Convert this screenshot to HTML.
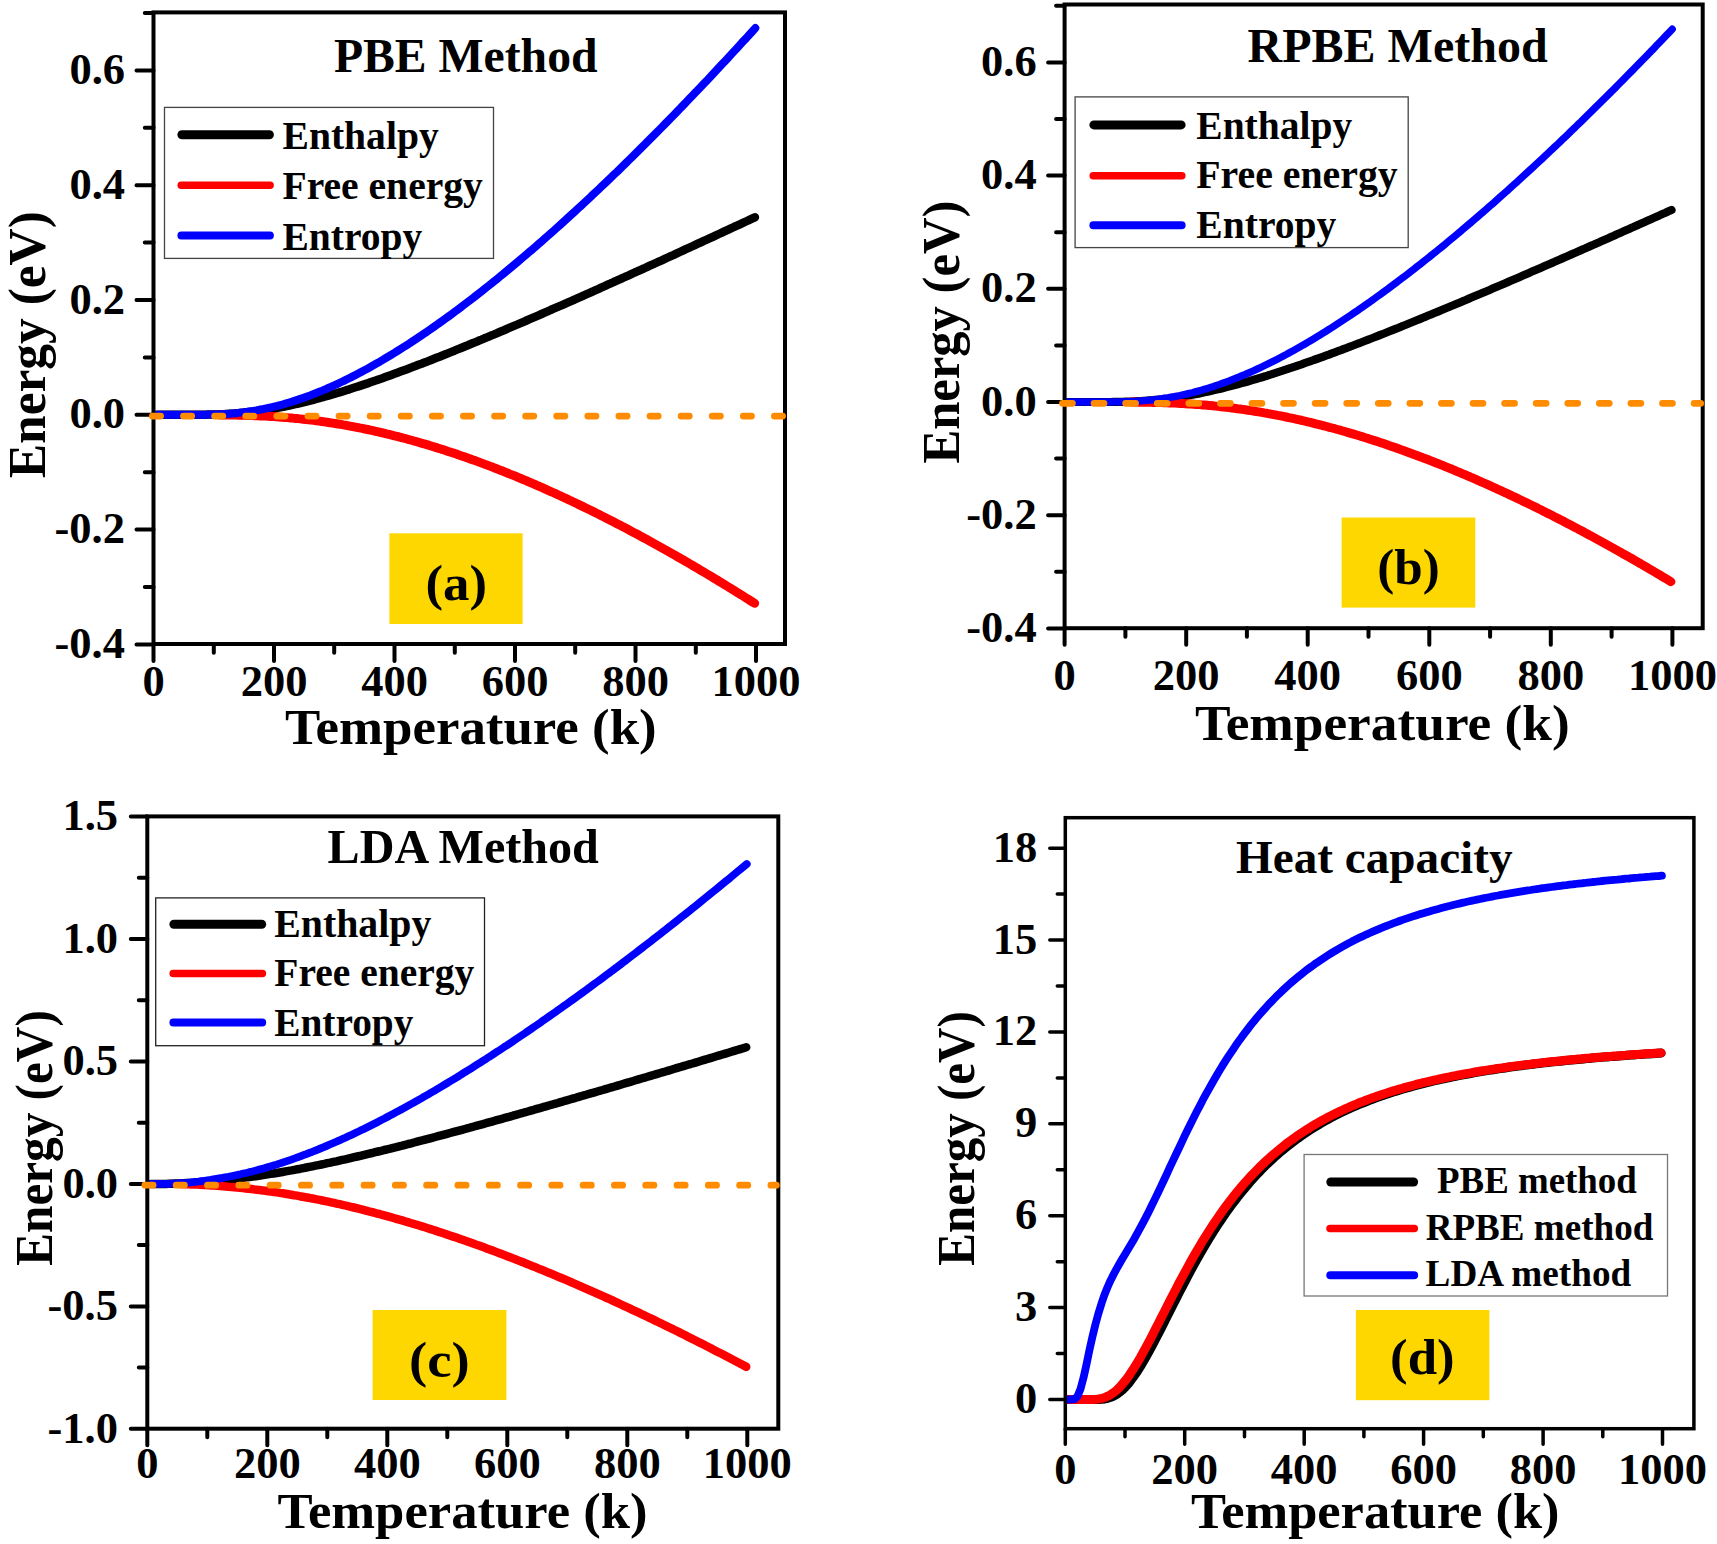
<!DOCTYPE html>
<html><head><meta charset="utf-8"><title>Thermodynamic properties</title>
<style>html,body{margin:0;padding:0;background:#fff}svg{display:block}text{font-family:"Liberation Serif",serif;font-weight:bold;fill:#000}</style></head>
<body>
<svg width="1717" height="1544" viewBox="0 0 1717 1544">
<rect width="1717" height="1544" fill="#fff"/>
<g>
<path d="M157.1,414.8 L160.1,414.8 L163.1,414.8 L166.1,414.8 L169.1,414.8 L172.1,414.8 L175.1,414.8 L178.1,414.8 L181.1,414.8 L184.1,414.8 L187.1,414.8 L190.1,414.8 L193.1,414.8 L196.1,414.8 L199.1,414.8 L202.1,414.7 L205.2,414.7 L208.2,414.6 L211.2,414.6 L214.2,414.5 L217.2,414.4 L220.2,414.3 L223.2,414.2 L226.2,414.0 L229.2,413.8 L232.2,413.7 L235.2,413.4 L238.2,413.2 L241.2,412.9 L244.2,412.6 L247.2,412.3 L250.2,412.0 L253.2,411.6 L256.2,411.3 L259.2,410.8 L262.2,410.4 L265.2,410.0 L268.2,409.5 L271.2,409.0 L274.2,408.5 L277.3,407.9 L280.3,407.3 L283.3,406.8 L286.3,406.1 L289.3,405.5 L292.3,404.9 L295.3,404.2 L298.3,403.5 L301.3,402.8 L304.3,402.1 L307.3,401.3 L310.3,400.6 L313.3,399.8 L316.3,399.0 L319.3,398.2 L322.3,397.3 L325.3,396.5 L328.3,395.6 L331.3,394.8 L334.3,393.9 L337.3,393.0 L340.3,392.1 L343.3,391.2 L346.3,390.2 L349.4,389.3 L352.4,388.3 L355.4,387.3 L358.4,386.4 L361.4,385.4 L364.4,384.4 L367.4,383.4 L370.4,382.3 L373.4,381.3 L376.4,380.3 L379.4,379.2 L382.4,378.2 L385.4,377.1 L388.4,376.0 L391.4,374.9 L394.4,373.8 L397.4,372.7 L400.4,371.6 L403.4,370.5 L406.4,369.4 L409.4,368.3 L412.4,367.1 L415.4,366.0 L418.4,364.8 L421.5,363.7 L424.5,362.5 L427.5,361.4 L430.5,360.2 L433.5,359.0 L436.5,357.8 L439.5,356.7 L442.5,355.5 L445.5,354.3 L448.5,353.1 L451.5,351.9 L454.5,350.7 L457.5,349.4 L460.5,348.2 L463.5,347.0 L466.5,345.8 L469.5,344.5 L472.5,343.3 L475.5,342.1 L478.5,340.8 L481.5,339.6 L484.5,338.3 L487.5,337.1 L490.5,335.8 L493.6,334.6 L496.6,333.3 L499.6,332.0 L502.6,330.8 L505.6,329.5 L508.6,328.2 L511.6,326.9 L514.6,325.6 L517.6,324.4 L520.6,323.1 L523.6,321.8 L526.6,320.5 L529.6,319.2 L532.6,317.9 L535.6,316.6 L538.6,315.3 L541.6,314.0 L544.6,312.7 L547.6,311.4 L550.6,310.0 L553.6,308.7 L556.6,307.4 L559.6,306.1 L562.6,304.8 L565.7,303.5 L568.7,302.1 L571.7,300.8 L574.7,299.5 L577.7,298.1 L580.7,296.8 L583.7,295.5 L586.7,294.1 L589.7,292.8 L592.7,291.5 L595.7,290.1 L598.7,288.8 L601.7,287.4 L604.7,286.1 L607.7,284.7 L610.7,283.4 L613.7,282.0 L616.7,280.7 L619.7,279.3 L622.7,278.0 L625.7,276.6 L628.7,275.3 L631.7,273.9 L634.7,272.5 L637.8,271.2 L640.8,269.8 L643.8,268.5 L646.8,267.1 L649.8,265.7 L652.8,264.4 L655.8,263.0 L658.8,261.6 L661.8,260.3 L664.8,258.9 L667.8,257.5 L670.8,256.1 L673.8,254.8 L676.8,253.4 L679.8,252.0 L682.8,250.6 L685.8,249.2 L688.8,247.9 L691.8,246.5 L694.8,245.1 L697.8,243.7 L700.8,242.3 L703.8,240.9 L706.8,239.6 L709.9,238.2 L712.9,236.8 L715.9,235.4 L718.9,234.0 L721.9,232.6 L724.9,231.2 L727.9,229.8 L730.9,228.4 L733.9,227.0 L736.9,225.7 L739.9,224.3 L742.9,222.9 L745.9,221.5 L748.9,220.1 L751.9,218.7 L754.9,217.3" fill="none" stroke="#000" stroke-width="8.5" stroke-linecap="round" stroke-linejoin="round"/>
<path d="M219.8,414.9 L222.5,414.9 L225.1,414.9 L227.8,415.0 L230.5,415.0 L233.2,415.1 L235.9,415.1 L238.6,415.2 L241.3,415.2 L244.0,415.3 L246.6,415.4 L249.3,415.5 L252.0,415.5 L254.7,415.7 L257.4,415.8 L260.1,415.9 L262.8,416.0 L265.5,416.1 L268.1,416.3 L270.8,416.5 L273.5,416.6 L276.2,416.8 L278.9,417.0 L281.6,417.2 L284.3,417.4 L287.0,417.6 L289.6,417.9 L292.3,418.1 L295.0,418.4 L297.7,418.6 L300.4,418.9 L303.1,419.2 L305.8,419.5 L308.5,419.8 L311.1,420.1 L313.8,420.4 L316.5,420.8 L319.2,421.1 L321.9,421.5 L324.6,421.9 L327.3,422.3 L330.0,422.7 L332.6,423.1 L335.3,423.5 L338.0,424.0 L340.7,424.4 L343.4,424.9 L346.1,425.3 L348.8,425.8 L351.5,426.3 L354.1,426.8 L356.8,427.3 L359.5,427.9 L362.2,428.4 L364.9,429.0 L367.6,429.5 L370.3,430.1 L373.0,430.7 L375.6,431.3 L378.3,431.9 L381.0,432.5 L383.7,433.1 L386.4,433.8 L389.1,434.4 L391.8,435.1 L394.5,435.8 L397.1,436.4 L399.8,437.1 L402.5,437.8 L405.2,438.5 L407.9,439.3 L410.6,440.0 L413.3,440.8 L416.0,441.5 L418.6,442.3 L421.3,443.1 L424.0,443.8 L426.7,444.6 L429.4,445.4 L432.1,446.3 L434.8,447.1 L437.4,447.9 L440.1,448.8 L442.8,449.6 L445.5,450.5 L448.2,451.4 L450.9,452.3 L453.6,453.1 L456.3,454.0 L458.9,455.0 L461.6,455.9 L464.3,456.8 L467.0,457.8 L469.7,458.7 L472.4,459.7 L475.1,460.6 L477.8,461.6 L480.4,462.6 L483.1,463.6 L485.8,464.6 L488.5,465.6 L491.2,466.6 L493.9,467.7 L496.6,468.7 L499.3,469.8 L501.9,470.8 L504.6,471.9 L507.3,473.0 L510.0,474.1 L512.7,475.1 L515.4,476.2 L518.1,477.4 L520.8,478.5 L523.4,479.6 L526.1,480.7 L528.8,481.9 L531.5,483.0 L534.2,484.2 L536.9,485.4 L539.6,486.5 L542.3,487.7 L544.9,488.9 L547.6,490.1 L550.3,491.3 L553.0,492.5 L555.7,493.7 L558.4,495.0 L561.1,496.2 L563.8,497.5 L566.4,498.7 L569.1,500.0 L571.8,501.2 L574.5,502.5 L577.2,503.8 L579.9,505.1 L582.6,506.4 L585.3,507.7 L587.9,509.0 L590.6,510.3 L593.3,511.6 L596.0,513.0 L598.7,514.3 L601.4,515.7 L604.1,517.0 L606.8,518.4 L609.4,519.8 L612.1,521.1 L614.8,522.5 L617.5,523.9 L620.2,525.3 L622.9,526.7 L625.6,528.1 L628.2,529.5 L630.9,531.0 L633.6,532.4 L636.3,533.8 L639.0,535.3 L641.7,536.7 L644.4,538.2 L647.1,539.6 L649.7,541.1 L652.4,542.6 L655.1,544.1 L657.8,545.6 L660.5,547.1 L663.2,548.6 L665.9,550.1 L668.6,551.6 L671.2,553.1 L673.9,554.6 L676.6,556.2 L679.3,557.7 L682.0,559.3 L684.7,560.8 L687.4,562.4 L690.1,564.0 L692.7,565.5 L695.4,567.1 L698.1,568.7 L700.8,570.3 L703.5,571.9 L706.2,573.5 L708.9,575.1 L711.6,576.7 L714.2,578.3 L716.9,579.9 L719.6,581.6 L722.3,583.2 L725.0,584.9 L727.7,586.5 L730.4,588.2 L733.1,589.8 L735.7,591.5 L738.4,593.2 L741.1,594.8 L743.8,596.5 L746.5,598.2 L749.2,599.9 L751.9,601.6 L754.6,603.3" fill="none" stroke="#f00" stroke-width="9" stroke-linecap="round" stroke-linejoin="round"/>
<path d="M156.9,414.8 L159.9,414.8 L162.9,414.8 L165.9,414.8 L168.9,414.8 L171.9,414.8 L174.9,414.8 L177.9,414.8 L180.9,414.8 L183.9,414.8 L186.9,414.8 L190.0,414.8 L193.0,414.8 L196.0,414.8 L199.0,414.8 L202.0,414.7 L205.0,414.7 L208.0,414.6 L211.0,414.6 L214.0,414.5 L217.0,414.4 L220.0,414.2 L223.0,414.1 L226.0,413.9 L229.0,413.7 L232.1,413.4 L235.1,413.2 L238.1,412.9 L241.1,412.5 L244.1,412.2 L247.1,411.8 L250.1,411.3 L253.1,410.9 L256.1,410.4 L259.1,409.8 L262.1,409.3 L265.1,408.6 L268.1,408.0 L271.1,407.3 L274.1,406.6 L277.2,405.9 L280.2,405.1 L283.2,404.3 L286.2,403.4 L289.2,402.5 L292.2,401.6 L295.2,400.6 L298.2,399.6 L301.2,398.6 L304.2,397.6 L307.2,396.5 L310.2,395.4 L313.2,394.2 L316.2,393.0 L319.3,391.8 L322.3,390.6 L325.3,389.3 L328.3,388.0 L331.3,386.7 L334.3,385.3 L337.3,384.0 L340.3,382.5 L343.3,381.1 L346.3,379.6 L349.3,378.2 L352.3,376.6 L355.3,375.1 L358.3,373.5 L361.4,371.9 L364.4,370.3 L367.4,368.7 L370.4,367.0 L373.4,365.3 L376.4,363.6 L379.4,361.9 L382.4,360.1 L385.4,358.3 L388.4,356.5 L391.4,354.7 L394.4,352.9 L397.4,351.0 L400.4,349.1 L403.5,347.2 L406.5,345.3 L409.5,343.4 L412.5,341.4 L415.5,339.4 L418.5,337.4 L421.5,335.4 L424.5,333.3 L427.5,331.3 L430.5,329.2 L433.5,327.1 L436.5,325.0 L439.5,322.9 L442.5,320.7 L445.6,318.5 L448.6,316.4 L451.6,314.2 L454.6,311.9 L457.6,309.7 L460.6,307.5 L463.6,305.2 L466.6,302.9 L469.6,300.6 L472.6,298.3 L475.6,296.0 L478.6,293.6 L481.6,291.3 L484.6,288.9 L487.6,286.5 L490.7,284.1 L493.7,281.7 L496.7,279.3 L499.7,276.8 L502.7,274.4 L505.7,271.9 L508.7,269.4 L511.7,266.9 L514.7,264.4 L517.7,261.9 L520.7,259.3 L523.7,256.8 L526.7,254.2 L529.7,251.6 L532.8,249.1 L535.8,246.5 L538.8,243.8 L541.8,241.2 L544.8,238.6 L547.8,235.9 L550.8,233.3 L553.8,230.6 L556.8,227.9 L559.8,225.2 L562.8,222.5 L565.8,219.8 L568.8,217.0 L571.8,214.3 L574.9,211.5 L577.9,208.7 L580.9,206.0 L583.9,203.2 L586.9,200.4 L589.9,197.6 L592.9,194.7 L595.9,191.9 L598.9,189.1 L601.9,186.2 L604.9,183.3 L607.9,180.5 L610.9,177.6 L613.9,174.7 L617.0,171.8 L620.0,168.8 L623.0,165.9 L626.0,163.0 L629.0,160.0 L632.0,157.1 L635.0,154.1 L638.0,151.1 L641.0,148.1 L644.0,145.2 L647.0,142.1 L650.0,139.1 L653.0,136.1 L656.0,133.1 L659.1,130.0 L662.1,127.0 L665.1,123.9 L668.1,120.9 L671.1,117.8 L674.1,114.7 L677.1,111.6 L680.1,108.5 L683.1,105.4 L686.1,102.3 L689.1,99.1 L692.1,96.0 L695.1,92.8 L698.1,89.7 L701.2,86.5 L704.2,83.3 L707.2,80.2 L710.2,77.0 L713.2,73.8 L716.2,70.6 L719.2,67.3 L722.2,64.1 L725.2,60.9 L728.2,57.7 L731.2,54.4 L734.2,51.1 L737.2,47.9 L740.2,44.6 L743.2,41.3 L746.3,38.1 L749.3,34.8 L752.3,31.5 L755.3,28.1" fill="none" stroke="#00f" stroke-width="8" stroke-linecap="round" stroke-linejoin="round"/>
<rect x="153.5" y="12.4" width="631.5" height="631.6" fill="none" stroke="#000" stroke-width="4"/>
<path d="M153.5,644.0 v17 M274.0,644.0 v17 M394.5,644.0 v17 M515.0,644.0 v17 M635.5,644.0 v17 M756.0,644.0 v17 M213.8,644.0 v8.7 M334.2,644.0 v8.7 M454.8,644.0 v8.7 M575.2,644.0 v8.7 M695.8,644.0 v8.7 M153.5,70.4 h-17 M153.5,185.2 h-17 M153.5,300.0 h-17 M153.5,414.8 h-17 M153.5,529.6 h-17 M153.5,644.4 h-17 M153.5,13.0 h-8.7 M153.5,127.8 h-8.7 M153.5,242.6 h-8.7 M153.5,357.4 h-8.7 M153.5,472.2 h-8.7 M153.5,587.0 h-8.7" fill="none" stroke="#000" stroke-width="4" stroke-linecap="round"/>
<path d="M152.4,416.1 H783" fill="none" stroke="#FF8C00" stroke-width="6.8" stroke-dasharray="8.2 22.9" stroke-linecap="round"/>
<text x="153.5" y="696.0" font-size="44.5" text-anchor="middle">0</text>
<text x="274.0" y="696.0" font-size="44.5" text-anchor="middle">200</text>
<text x="394.5" y="696.0" font-size="44.5" text-anchor="middle">400</text>
<text x="515.0" y="696.0" font-size="44.5" text-anchor="middle">600</text>
<text x="635.5" y="696.0" font-size="44.5" text-anchor="middle">800</text>
<text x="756.0" y="696.0" font-size="44.5" text-anchor="middle">1000</text>
<text x="125.0" y="83.9" font-size="44.5" text-anchor="end">0.6</text>
<text x="125.0" y="198.7" font-size="44.5" text-anchor="end">0.4</text>
<text x="125.0" y="313.5" font-size="44.5" text-anchor="end">0.2</text>
<text x="125.0" y="428.3" font-size="44.5" text-anchor="end">0.0</text>
<text x="125.0" y="543.1" font-size="44.5" text-anchor="end">-0.2</text>
<text x="125.0" y="657.9" font-size="44.5" text-anchor="end">-0.4</text>
<text x="285.1" y="744.2" font-size="51.5" textLength="371.6" lengthAdjust="spacingAndGlyphs">Temperature (k)</text>
<text transform="translate(45.0,478.3) rotate(-90)" font-size="52.0" textLength="267.2" lengthAdjust="spacingAndGlyphs">Energy (eV)</text>
<text x="333.9" y="71.8" font-size="47.7">PBE Method</text>
<rect x="164.5" y="107.4" width="329.0" height="151.0" fill="#fff" stroke="#444" stroke-width="1.3"/>
<path d="M181.9,134.7 H269.4" stroke="#000" stroke-width="9" stroke-linecap="round"/>
<text x="282.5" y="149.1" font-size="39.6">Enthalpy</text>
<path d="M181.2,185.3 H270.1" stroke="#f00" stroke-width="7.5" stroke-linecap="round"/>
<text x="282.5" y="198.9" font-size="39.6">Free energy</text>
<path d="M181.4,235.6 H269.9" stroke="#00f" stroke-width="8" stroke-linecap="round"/>
<text x="282.5" y="249.8" font-size="39.5">Entropy</text>
<rect x="389.4" y="533.3" width="133.2" height="90.7" fill="#FFD700"/>
<text x="425.5" y="600.1" font-size="50.5" textLength="61.6" lengthAdjust="spacingAndGlyphs">(a)</text>
</g>
<g>
<path d="M1068.1,402.0 L1071.1,402.0 L1074.2,402.0 L1077.2,402.0 L1080.2,402.0 L1083.3,402.0 L1086.3,402.0 L1089.3,402.0 L1092.3,402.0 L1095.4,402.0 L1098.4,402.0 L1101.4,402.0 L1104.5,402.0 L1107.5,402.0 L1110.5,402.0 L1113.6,401.9 L1116.6,401.9 L1119.6,401.8 L1122.7,401.8 L1125.7,401.7 L1128.7,401.6 L1131.8,401.5 L1134.8,401.4 L1137.8,401.2 L1140.9,401.1 L1143.9,400.9 L1146.9,400.7 L1150.0,400.4 L1153.0,400.2 L1156.0,399.9 L1159.1,399.6 L1162.1,399.3 L1165.1,398.9 L1168.2,398.6 L1171.2,398.2 L1174.2,397.7 L1177.3,397.3 L1180.3,396.8 L1183.3,396.4 L1186.4,395.8 L1189.4,395.3 L1192.4,394.8 L1195.4,394.2 L1198.5,393.6 L1201.5,393.0 L1204.5,392.3 L1207.6,391.7 L1210.6,391.0 L1213.6,390.3 L1216.7,389.6 L1219.7,388.9 L1222.7,388.2 L1225.8,387.4 L1228.8,386.6 L1231.8,385.8 L1234.9,385.0 L1237.9,384.2 L1240.9,383.4 L1244.0,382.5 L1247.0,381.7 L1250.0,380.8 L1253.1,379.9 L1256.1,379.0 L1259.1,378.1 L1262.2,377.2 L1265.2,376.3 L1268.2,375.3 L1271.3,374.4 L1274.3,373.4 L1277.3,372.4 L1280.4,371.4 L1283.4,370.4 L1286.4,369.4 L1289.4,368.4 L1292.5,367.4 L1295.5,366.4 L1298.5,365.3 L1301.6,364.3 L1304.6,363.2 L1307.6,362.2 L1310.7,361.1 L1313.7,360.0 L1316.7,359.0 L1319.8,357.9 L1322.8,356.8 L1325.8,355.7 L1328.9,354.6 L1331.9,353.4 L1334.9,352.3 L1338.0,351.2 L1341.0,350.1 L1344.0,348.9 L1347.1,347.8 L1350.1,346.6 L1353.1,345.5 L1356.2,344.3 L1359.2,343.2 L1362.2,342.0 L1365.3,340.8 L1368.3,339.6 L1371.3,338.5 L1374.4,337.3 L1377.4,336.1 L1380.4,334.9 L1383.5,333.7 L1386.5,332.5 L1389.5,331.3 L1392.5,330.1 L1395.6,328.9 L1398.6,327.7 L1401.6,326.4 L1404.7,325.2 L1407.7,324.0 L1410.7,322.8 L1413.8,321.5 L1416.8,320.3 L1419.8,319.1 L1422.9,317.8 L1425.9,316.6 L1428.9,315.3 L1432.0,314.1 L1435.0,312.8 L1438.0,311.6 L1441.1,310.3 L1444.1,309.0 L1447.1,307.8 L1450.2,306.5 L1453.2,305.3 L1456.2,304.0 L1459.3,302.7 L1462.3,301.4 L1465.3,300.2 L1468.4,298.9 L1471.4,297.6 L1474.4,296.3 L1477.5,295.0 L1480.5,293.8 L1483.5,292.5 L1486.6,291.2 L1489.6,289.9 L1492.6,288.6 L1495.6,287.3 L1498.7,286.0 L1501.7,284.7 L1504.7,283.4 L1507.8,282.1 L1510.8,280.8 L1513.8,279.5 L1516.9,278.2 L1519.9,276.9 L1522.9,275.6 L1526.0,274.2 L1529.0,272.9 L1532.0,271.6 L1535.1,270.3 L1538.1,269.0 L1541.1,267.7 L1544.2,266.3 L1547.2,265.0 L1550.2,263.7 L1553.3,262.4 L1556.3,261.0 L1559.3,259.7 L1562.4,258.4 L1565.4,257.1 L1568.4,255.7 L1571.5,254.4 L1574.5,253.1 L1577.5,251.7 L1580.6,250.4 L1583.6,249.1 L1586.6,247.7 L1589.7,246.4 L1592.7,245.1 L1595.7,243.7 L1598.7,242.4 L1601.8,241.0 L1604.8,239.7 L1607.8,238.4 L1610.9,237.0 L1613.9,235.7 L1616.9,234.3 L1620.0,233.0 L1623.0,231.6 L1626.0,230.3 L1629.1,228.9 L1632.1,227.6 L1635.1,226.2 L1638.2,224.9 L1641.2,223.5 L1644.2,222.2 L1647.3,220.8 L1650.3,219.5 L1653.3,218.1 L1656.4,216.7 L1659.4,215.4 L1662.4,214.0 L1665.5,212.7 L1668.5,211.3 L1671.5,210.0" fill="none" stroke="#000" stroke-width="8.2" stroke-linecap="round" stroke-linejoin="round"/>
<path d="M1131.5,402.1 L1134.2,402.1 L1136.9,402.1 L1139.6,402.2 L1142.3,402.2 L1145.0,402.2 L1147.7,402.3 L1150.4,402.3 L1153.1,402.4 L1155.9,402.5 L1158.6,402.5 L1161.3,402.6 L1164.0,402.7 L1166.7,402.8 L1169.4,402.9 L1172.1,403.0 L1174.8,403.1 L1177.5,403.3 L1180.3,403.4 L1183.0,403.5 L1185.7,403.7 L1188.4,403.9 L1191.1,404.0 L1193.8,404.2 L1196.5,404.4 L1199.2,404.6 L1201.9,404.9 L1204.7,405.1 L1207.4,405.3 L1210.1,405.6 L1212.8,405.8 L1215.5,406.1 L1218.2,406.4 L1220.9,406.7 L1223.6,407.0 L1226.3,407.3 L1229.1,407.6 L1231.8,408.0 L1234.5,408.3 L1237.2,408.7 L1239.9,409.0 L1242.6,409.4 L1245.3,409.8 L1248.0,410.2 L1250.7,410.6 L1253.5,411.0 L1256.2,411.5 L1258.9,411.9 L1261.6,412.4 L1264.3,412.9 L1267.0,413.3 L1269.7,413.8 L1272.4,414.3 L1275.1,414.8 L1277.9,415.4 L1280.6,415.9 L1283.3,416.4 L1286.0,417.0 L1288.7,417.6 L1291.4,418.1 L1294.1,418.7 L1296.8,419.3 L1299.5,419.9 L1302.2,420.5 L1305.0,421.2 L1307.7,421.8 L1310.4,422.4 L1313.1,423.1 L1315.8,423.8 L1318.5,424.5 L1321.2,425.1 L1323.9,425.8 L1326.6,426.5 L1329.4,427.3 L1332.1,428.0 L1334.8,428.7 L1337.5,429.5 L1340.2,430.2 L1342.9,431.0 L1345.6,431.8 L1348.3,432.6 L1351.0,433.4 L1353.8,434.2 L1356.5,435.0 L1359.2,435.8 L1361.9,436.6 L1364.6,437.5 L1367.3,438.3 L1370.0,439.2 L1372.7,440.1 L1375.4,440.9 L1378.2,441.8 L1380.9,442.7 L1383.6,443.6 L1386.3,444.5 L1389.0,445.5 L1391.7,446.4 L1394.4,447.3 L1397.1,448.3 L1399.8,449.3 L1402.6,450.2 L1405.3,451.2 L1408.0,452.2 L1410.7,453.2 L1413.4,454.2 L1416.1,455.2 L1418.8,456.2 L1421.5,457.2 L1424.2,458.3 L1427.0,459.3 L1429.7,460.3 L1432.4,461.4 L1435.1,462.5 L1437.8,463.5 L1440.5,464.6 L1443.2,465.7 L1445.9,466.8 L1448.6,467.9 L1451.4,469.0 L1454.1,470.1 L1456.8,471.3 L1459.5,472.4 L1462.2,473.6 L1464.9,474.7 L1467.6,475.9 L1470.3,477.0 L1473.0,478.2 L1475.8,479.4 L1478.5,480.6 L1481.2,481.8 L1483.9,483.0 L1486.6,484.2 L1489.3,485.4 L1492.0,486.6 L1494.7,487.8 L1497.4,489.1 L1500.2,490.3 L1502.9,491.6 L1505.6,492.8 L1508.3,494.1 L1511.0,495.4 L1513.7,496.7 L1516.4,497.9 L1519.1,499.2 L1521.8,500.5 L1524.5,501.9 L1527.3,503.2 L1530.0,504.5 L1532.7,505.8 L1535.4,507.1 L1538.1,508.5 L1540.8,509.8 L1543.5,511.2 L1546.2,512.6 L1548.9,513.9 L1551.7,515.3 L1554.4,516.7 L1557.1,518.1 L1559.8,519.4 L1562.5,520.8 L1565.2,522.3 L1567.9,523.7 L1570.6,525.1 L1573.3,526.5 L1576.1,527.9 L1578.8,529.4 L1581.5,530.8 L1584.2,532.3 L1586.9,533.7 L1589.6,535.2 L1592.3,536.6 L1595.0,538.1 L1597.7,539.6 L1600.5,541.1 L1603.2,542.6 L1605.9,544.1 L1608.6,545.6 L1611.3,547.1 L1614.0,548.6 L1616.7,550.1 L1619.4,551.6 L1622.1,553.2 L1624.9,554.7 L1627.6,556.2 L1630.3,557.8 L1633.0,559.3 L1635.7,560.9 L1638.4,562.5 L1641.1,564.0 L1643.8,565.6 L1646.5,567.2 L1649.3,568.8 L1652.0,570.4 L1654.7,572.0 L1657.4,573.6 L1660.1,575.2 L1662.8,576.8 L1665.5,578.4 L1668.2,580.0 L1670.9,581.7" fill="none" stroke="#f00" stroke-width="9" stroke-linecap="round" stroke-linejoin="round"/>
<path d="M1067.7,402.0 L1070.7,402.0 L1073.8,402.0 L1076.8,402.0 L1079.9,402.0 L1082.9,402.0 L1085.9,402.0 L1089.0,402.0 L1092.0,402.0 L1095.0,402.0 L1098.1,402.0 L1101.1,402.0 L1104.2,402.0 L1107.2,402.0 L1110.2,402.0 L1113.3,401.9 L1116.3,401.9 L1119.3,401.8 L1122.4,401.8 L1125.4,401.7 L1128.5,401.6 L1131.5,401.5 L1134.5,401.3 L1137.6,401.1 L1140.6,400.9 L1143.6,400.7 L1146.7,400.4 L1149.7,400.2 L1152.8,399.8 L1155.8,399.5 L1158.8,399.1 L1161.9,398.7 L1164.9,398.2 L1167.9,397.8 L1171.0,397.2 L1174.0,396.7 L1177.1,396.1 L1180.1,395.5 L1183.1,394.8 L1186.2,394.1 L1189.2,393.4 L1192.2,392.7 L1195.3,391.9 L1198.3,391.1 L1201.4,390.2 L1204.4,389.3 L1207.4,388.4 L1210.5,387.4 L1213.5,386.5 L1216.5,385.4 L1219.6,384.4 L1222.6,383.3 L1225.7,382.2 L1228.7,381.1 L1231.7,379.9 L1234.8,378.7 L1237.8,377.5 L1240.8,376.2 L1243.9,375.0 L1246.9,373.7 L1250.0,372.3 L1253.0,371.0 L1256.0,369.6 L1259.1,368.2 L1262.1,366.7 L1265.1,365.3 L1268.2,363.8 L1271.2,362.3 L1274.3,360.7 L1277.3,359.2 L1280.3,357.6 L1283.4,356.0 L1286.4,354.4 L1289.4,352.7 L1292.5,351.1 L1295.5,349.4 L1298.6,347.6 L1301.6,345.9 L1304.6,344.2 L1307.7,342.4 L1310.7,340.6 L1313.7,338.8 L1316.8,336.9 L1319.8,335.1 L1322.9,333.2 L1325.9,331.3 L1328.9,329.4 L1332.0,327.5 L1335.0,325.5 L1338.0,323.5 L1341.1,321.5 L1344.1,319.5 L1347.2,317.5 L1350.2,315.5 L1353.2,313.4 L1356.3,311.4 L1359.3,309.3 L1362.3,307.2 L1365.4,305.0 L1368.4,302.9 L1371.5,300.8 L1374.5,298.6 L1377.5,296.4 L1380.6,294.2 L1383.6,292.0 L1386.7,289.8 L1389.7,287.5 L1392.7,285.3 L1395.8,283.0 L1398.8,280.7 L1401.8,278.4 L1404.9,276.1 L1407.9,273.8 L1411.0,271.4 L1414.0,269.1 L1417.0,266.7 L1420.1,264.3 L1423.1,261.9 L1426.1,259.5 L1429.2,257.1 L1432.2,254.6 L1435.3,252.2 L1438.3,249.7 L1441.3,247.3 L1444.4,244.8 L1447.4,242.3 L1450.4,239.8 L1453.5,237.2 L1456.5,234.7 L1459.6,232.2 L1462.6,229.6 L1465.6,227.0 L1468.7,224.4 L1471.7,221.9 L1474.7,219.2 L1477.8,216.6 L1480.8,214.0 L1483.9,211.4 L1486.9,208.7 L1489.9,206.1 L1493.0,203.4 L1496.0,200.7 L1499.0,198.0 L1502.1,195.3 L1505.1,192.6 L1508.2,189.9 L1511.2,187.1 L1514.2,184.4 L1517.3,181.7 L1520.3,178.9 L1523.3,176.1 L1526.4,173.3 L1529.4,170.5 L1532.5,167.7 L1535.5,164.9 L1538.5,162.1 L1541.6,159.3 L1544.6,156.4 L1547.6,153.6 L1550.7,150.7 L1553.7,147.8 L1556.8,145.0 L1559.8,142.1 L1562.8,139.2 L1565.9,136.3 L1568.9,133.4 L1571.9,130.4 L1575.0,127.5 L1578.0,124.5 L1581.1,121.6 L1584.1,118.6 L1587.1,115.7 L1590.2,112.7 L1593.2,109.7 L1596.2,106.7 L1599.3,103.7 L1602.3,100.7 L1605.4,97.7 L1608.4,94.7 L1611.4,91.6 L1614.5,88.6 L1617.5,85.5 L1620.5,82.5 L1623.6,79.4 L1626.6,76.3 L1629.7,73.2 L1632.7,70.1 L1635.7,67.0 L1638.8,63.9 L1641.8,60.8 L1644.8,57.7 L1647.9,54.6 L1650.9,51.4 L1654.0,48.3 L1657.0,45.1 L1660.0,42.0 L1663.1,38.8 L1666.1,35.6 L1669.1,32.4 L1672.2,29.2" fill="none" stroke="#00f" stroke-width="7.3" stroke-linecap="round" stroke-linejoin="round"/>
<rect x="1064.6" y="4.5" width="638.1" height="623.7" fill="none" stroke="#000" stroke-width="4"/>
<path d="M1064.6,628.2 v16.5 M1186.2,628.2 v16.5 M1307.7,628.2 v16.5 M1429.3,628.2 v16.5 M1550.8,628.2 v16.5 M1672.4,628.2 v16.5 M1125.4,628.2 v8.5 M1246.9,628.2 v8.5 M1368.5,628.2 v8.5 M1490.1,628.2 v8.5 M1611.6,628.2 v8.5 M1064.6,62.4 h-16.5 M1064.6,175.6 h-16.5 M1064.6,288.8 h-16.5 M1064.6,402.0 h-16.5 M1064.6,515.2 h-16.5 M1064.6,628.4 h-16.5 M1064.6,5.8 h-8.5 M1064.6,119.0 h-8.5 M1064.6,232.2 h-8.5 M1064.6,345.4 h-8.5 M1064.6,458.6 h-8.5 M1064.6,571.8 h-8.5" fill="none" stroke="#000" stroke-width="4" stroke-linecap="round"/>
<path d="M1062.5,403.3 H1700.7" fill="none" stroke="#FF8C00" stroke-width="6.8" stroke-dasharray="9.9 21.68" stroke-linecap="round"/>
<text x="1064.6" y="689.5" font-size="44.5" text-anchor="middle">0</text>
<text x="1186.2" y="689.5" font-size="44.5" text-anchor="middle">200</text>
<text x="1307.7" y="689.5" font-size="44.5" text-anchor="middle">400</text>
<text x="1429.3" y="689.5" font-size="44.5" text-anchor="middle">600</text>
<text x="1550.8" y="689.5" font-size="44.5" text-anchor="middle">800</text>
<text x="1672.4" y="689.5" font-size="44.5" text-anchor="middle">1000</text>
<text x="1036.7" y="76.0" font-size="44.5" text-anchor="end">0.6</text>
<text x="1036.7" y="189.2" font-size="44.5" text-anchor="end">0.4</text>
<text x="1036.7" y="302.4" font-size="44.5" text-anchor="end">0.2</text>
<text x="1036.7" y="415.6" font-size="44.5" text-anchor="end">0.0</text>
<text x="1036.7" y="528.8" font-size="44.5" text-anchor="end">-0.2</text>
<text x="1036.7" y="642.0" font-size="44.5" text-anchor="end">-0.4</text>
<text x="1195.0" y="740.4" font-size="51.5" textLength="374.8" lengthAdjust="spacingAndGlyphs">Temperature (k)</text>
<text transform="translate(959.3,463.6) rotate(-90)" font-size="52.0" textLength="262.9" lengthAdjust="spacingAndGlyphs">Energy (eV)</text>
<text x="1247.6" y="62.1" font-size="48.0">RPBE Method</text>
<rect x="1075.1" y="96.9" width="333.1" height="150.7" fill="#fff" stroke="#444" stroke-width="1.3"/>
<path d="M1093.9,124.9 H1181.1" stroke="#000" stroke-width="9" stroke-linecap="round"/>
<text x="1196.3" y="138.6" font-size="39.5">Enthalpy</text>
<path d="M1093.2,175.7 H1181.8" stroke="#f00" stroke-width="7.5" stroke-linecap="round"/>
<text x="1196.3" y="188.2" font-size="39.8">Free energy</text>
<path d="M1093.4,225.3 H1181.6" stroke="#00f" stroke-width="8" stroke-linecap="round"/>
<text x="1196.3" y="238.4" font-size="39.6">Entropy</text>
<rect x="1341.6" y="517.5" width="133.7" height="90.1" fill="#FFD700"/>
<text x="1377.2" y="584.3" font-size="50.5" textLength="62.5" lengthAdjust="spacingAndGlyphs">(b)</text>
</g>
<g>
<path d="M150.9,1183.9 L153.9,1183.9 L156.9,1183.9 L159.8,1183.9 L162.8,1183.9 L165.8,1183.9 L168.8,1183.8 L171.8,1183.7 L174.8,1183.6 L177.8,1183.5 L180.8,1183.4 L183.8,1183.2 L186.8,1183.0 L189.8,1182.9 L192.8,1182.7 L195.7,1182.4 L198.7,1182.2 L201.7,1182.0 L204.7,1181.8 L207.7,1181.5 L210.7,1181.3 L213.7,1181.0 L216.7,1180.7 L219.7,1180.4 L222.7,1180.1 L225.7,1179.8 L228.7,1179.5 L231.6,1179.2 L234.6,1178.9 L237.6,1178.5 L240.6,1178.1 L243.6,1177.8 L246.6,1177.4 L249.6,1177.0 L252.6,1176.6 L255.6,1176.2 L258.6,1175.8 L261.6,1175.3 L264.6,1174.9 L267.5,1174.4 L270.5,1173.9 L273.5,1173.5 L276.5,1173.0 L279.5,1172.5 L282.5,1172.0 L285.5,1171.4 L288.5,1170.9 L291.5,1170.4 L294.5,1169.8 L297.5,1169.2 L300.5,1168.7 L303.4,1168.1 L306.4,1167.5 L309.4,1166.9 L312.4,1166.3 L315.4,1165.7 L318.4,1165.1 L321.4,1164.5 L324.4,1163.9 L327.4,1163.2 L330.4,1162.6 L333.4,1161.9 L336.4,1161.3 L339.3,1160.6 L342.3,1159.9 L345.3,1159.3 L348.3,1158.6 L351.3,1157.9 L354.3,1157.2 L357.3,1156.5 L360.3,1155.8 L363.3,1155.1 L366.3,1154.4 L369.3,1153.7 L372.3,1153.0 L375.2,1152.2 L378.2,1151.5 L381.2,1150.8 L384.2,1150.0 L387.2,1149.3 L390.2,1148.6 L393.2,1147.8 L396.2,1147.1 L399.2,1146.3 L402.2,1145.6 L405.2,1144.8 L408.2,1144.0 L411.1,1143.3 L414.1,1142.5 L417.1,1141.7 L420.1,1140.9 L423.1,1140.2 L426.1,1139.4 L429.1,1138.6 L432.1,1137.8 L435.1,1137.0 L438.1,1136.2 L441.1,1135.4 L444.1,1134.6 L447.0,1133.8 L450.0,1133.0 L453.0,1132.2 L456.0,1131.4 L459.0,1130.6 L462.0,1129.8 L465.0,1129.0 L468.0,1128.2 L471.0,1127.3 L474.0,1126.5 L477.0,1125.7 L480.0,1124.9 L482.9,1124.1 L485.9,1123.2 L488.9,1122.4 L491.9,1121.6 L494.9,1120.7 L497.9,1119.9 L500.9,1119.1 L503.9,1118.2 L506.9,1117.4 L509.9,1116.6 L512.9,1115.7 L515.9,1114.9 L518.9,1114.0 L521.8,1113.2 L524.8,1112.3 L527.8,1111.5 L530.8,1110.6 L533.8,1109.8 L536.8,1108.9 L539.8,1108.1 L542.8,1107.2 L545.8,1106.4 L548.8,1105.5 L551.8,1104.7 L554.8,1103.8 L557.7,1103.0 L560.7,1102.1 L563.7,1101.2 L566.7,1100.4 L569.7,1099.5 L572.7,1098.6 L575.7,1097.8 L578.7,1096.9 L581.7,1096.0 L584.7,1095.2 L587.7,1094.3 L590.7,1093.4 L593.6,1092.6 L596.6,1091.7 L599.6,1090.8 L602.6,1090.0 L605.6,1089.1 L608.6,1088.2 L611.6,1087.3 L614.6,1086.5 L617.6,1085.6 L620.6,1084.7 L623.6,1083.8 L626.6,1082.9 L629.5,1082.1 L632.5,1081.2 L635.5,1080.3 L638.5,1079.4 L641.5,1078.5 L644.5,1077.7 L647.5,1076.8 L650.5,1075.9 L653.5,1075.0 L656.5,1074.1 L659.5,1073.2 L662.5,1072.3 L665.4,1071.5 L668.4,1070.6 L671.4,1069.7 L674.4,1068.8 L677.4,1067.9 L680.4,1067.0 L683.4,1066.1 L686.4,1065.2 L689.4,1064.3 L692.4,1063.5 L695.4,1062.6 L698.4,1061.7 L701.3,1060.8 L704.3,1059.9 L707.3,1059.0 L710.3,1058.1 L713.3,1057.2 L716.3,1056.3 L719.3,1055.4 L722.3,1054.5 L725.3,1053.6 L728.3,1052.7 L731.3,1051.8 L734.3,1050.9 L737.2,1050.0 L740.2,1049.1 L743.2,1048.2 L746.2,1047.3" fill="none" stroke="#000" stroke-width="8.5" stroke-linecap="round" stroke-linejoin="round"/>
<path d="M180.3,1184.1 L183.1,1184.1 L186.0,1184.2 L188.8,1184.3 L191.7,1184.4 L194.5,1184.5 L197.4,1184.6 L200.2,1184.7 L203.1,1184.9 L205.9,1185.0 L208.7,1185.2 L211.6,1185.4 L214.4,1185.6 L217.3,1185.8 L220.1,1186.0 L223.0,1186.2 L225.8,1186.4 L228.6,1186.7 L231.5,1186.9 L234.3,1187.2 L237.2,1187.5 L240.0,1187.8 L242.9,1188.1 L245.7,1188.4 L248.6,1188.7 L251.4,1189.0 L254.2,1189.4 L257.1,1189.7 L259.9,1190.1 L262.8,1190.4 L265.6,1190.8 L268.5,1191.2 L271.3,1191.6 L274.1,1192.0 L277.0,1192.4 L279.8,1192.9 L282.7,1193.3 L285.5,1193.7 L288.4,1194.2 L291.2,1194.7 L294.1,1195.2 L296.9,1195.6 L299.7,1196.2 L302.6,1196.7 L305.4,1197.2 L308.3,1197.7 L311.1,1198.3 L314.0,1198.8 L316.8,1199.4 L319.6,1199.9 L322.5,1200.5 L325.3,1201.1 L328.2,1201.7 L331.0,1202.3 L333.9,1202.9 L336.7,1203.6 L339.6,1204.2 L342.4,1204.8 L345.2,1205.5 L348.1,1206.2 L350.9,1206.8 L353.8,1207.5 L356.6,1208.2 L359.5,1208.9 L362.3,1209.6 L365.1,1210.3 L368.0,1211.1 L370.8,1211.8 L373.7,1212.5 L376.5,1213.3 L379.4,1214.0 L382.2,1214.8 L385.1,1215.6 L387.9,1216.4 L390.7,1217.2 L393.6,1218.0 L396.4,1218.8 L399.3,1219.6 L402.1,1220.4 L405.0,1221.3 L407.8,1222.1 L410.6,1223.0 L413.5,1223.8 L416.3,1224.7 L419.2,1225.5 L422.0,1226.4 L424.9,1227.3 L427.7,1228.2 L430.6,1229.1 L433.4,1230.0 L436.2,1230.9 L439.1,1231.9 L441.9,1232.8 L444.8,1233.7 L447.6,1234.7 L450.5,1235.7 L453.3,1236.6 L456.2,1237.6 L459.0,1238.6 L461.8,1239.5 L464.7,1240.5 L467.5,1241.5 L470.4,1242.5 L473.2,1243.5 L476.1,1244.6 L478.9,1245.6 L481.7,1246.6 L484.6,1247.6 L487.4,1248.7 L490.3,1249.7 L493.1,1250.8 L496.0,1251.9 L498.8,1252.9 L501.7,1254.0 L504.5,1255.1 L507.3,1256.2 L510.2,1257.3 L513.0,1258.4 L515.9,1259.5 L518.7,1260.6 L521.6,1261.7 L524.4,1262.8 L527.2,1264.0 L530.1,1265.1 L532.9,1266.3 L535.8,1267.4 L538.6,1268.6 L541.5,1269.7 L544.3,1270.9 L547.2,1272.1 L550.0,1273.2 L552.8,1274.4 L555.7,1275.6 L558.5,1276.8 L561.4,1278.0 L564.2,1279.2 L567.1,1280.4 L569.9,1281.6 L572.7,1282.9 L575.6,1284.1 L578.4,1285.3 L581.3,1286.6 L584.1,1287.8 L587.0,1289.1 L589.8,1290.3 L592.7,1291.6 L595.5,1292.8 L598.3,1294.1 L601.2,1295.4 L604.0,1296.7 L606.9,1298.0 L609.7,1299.2 L612.6,1300.5 L615.4,1301.8 L618.2,1303.1 L621.1,1304.5 L623.9,1305.8 L626.8,1307.1 L629.6,1308.4 L632.5,1309.8 L635.3,1311.1 L638.2,1312.4 L641.0,1313.8 L643.8,1315.1 L646.7,1316.5 L649.5,1317.8 L652.4,1319.2 L655.2,1320.6 L658.1,1322.0 L660.9,1323.3 L663.7,1324.7 L666.6,1326.1 L669.4,1327.5 L672.3,1328.9 L675.1,1330.3 L678.0,1331.7 L680.8,1333.1 L683.7,1334.5 L686.5,1335.9 L689.3,1337.4 L692.2,1338.8 L695.0,1340.2 L697.9,1341.7 L700.7,1343.1 L703.6,1344.6 L706.4,1346.0 L709.3,1347.5 L712.1,1348.9 L714.9,1350.4 L717.8,1351.9 L720.6,1353.3 L723.5,1354.8 L726.3,1356.3 L729.2,1357.8 L732.0,1359.3 L734.8,1360.7 L737.7,1362.2 L740.5,1363.7 L743.4,1365.2 L746.2,1366.8" fill="none" stroke="#f00" stroke-width="8.5" stroke-linecap="round" stroke-linejoin="round"/>
<path d="M150.5,1183.9 L153.5,1183.9 L156.5,1183.9 L159.5,1183.9 L162.5,1183.9 L165.5,1183.9 L168.5,1183.8 L171.5,1183.7 L174.5,1183.6 L177.5,1183.4 L180.5,1183.2 L183.5,1183.0 L186.5,1182.8 L189.5,1182.5 L192.5,1182.2 L195.5,1181.8 L198.5,1181.5 L201.5,1181.1 L204.5,1180.7 L207.5,1180.3 L210.5,1179.9 L213.5,1179.4 L216.5,1178.9 L219.4,1178.4 L222.4,1177.9 L225.4,1177.3 L228.4,1176.8 L231.4,1176.2 L234.4,1175.6 L237.4,1174.9 L240.4,1174.3 L243.4,1173.6 L246.4,1172.9 L249.4,1172.1 L252.4,1171.4 L255.4,1170.6 L258.4,1169.8 L261.4,1169.0 L264.4,1168.2 L267.4,1167.3 L270.4,1166.4 L273.4,1165.5 L276.4,1164.6 L279.4,1163.6 L282.4,1162.6 L285.4,1161.6 L288.4,1160.6 L291.4,1159.6 L294.4,1158.5 L297.4,1157.4 L300.3,1156.3 L303.3,1155.2 L306.3,1154.1 L309.3,1152.9 L312.3,1151.8 L315.3,1150.6 L318.3,1149.4 L321.3,1148.1 L324.3,1146.9 L327.3,1145.6 L330.3,1144.3 L333.3,1143.0 L336.3,1141.7 L339.3,1140.4 L342.3,1139.0 L345.3,1137.7 L348.3,1136.3 L351.3,1134.9 L354.3,1133.5 L357.3,1132.1 L360.3,1130.6 L363.3,1129.2 L366.3,1127.7 L369.3,1126.2 L372.3,1124.7 L375.3,1123.2 L378.3,1121.7 L381.2,1120.1 L384.2,1118.6 L387.2,1117.0 L390.2,1115.4 L393.2,1113.8 L396.2,1112.2 L399.2,1110.6 L402.2,1109.0 L405.2,1107.3 L408.2,1105.7 L411.2,1104.0 L414.2,1102.3 L417.2,1100.7 L420.2,1099.0 L423.2,1097.2 L426.2,1095.5 L429.2,1093.8 L432.2,1092.0 L435.2,1090.3 L438.2,1088.5 L441.2,1086.7 L444.2,1084.9 L447.2,1083.1 L450.2,1081.3 L453.2,1079.5 L456.2,1077.7 L459.2,1075.9 L462.1,1074.0 L465.1,1072.1 L468.1,1070.3 L471.1,1068.4 L474.1,1066.5 L477.1,1064.6 L480.1,1062.7 L483.1,1060.8 L486.1,1058.9 L489.1,1056.9 L492.1,1055.0 L495.1,1053.0 L498.1,1051.1 L501.1,1049.1 L504.1,1047.1 L507.1,1045.2 L510.1,1043.2 L513.1,1041.2 L516.1,1039.1 L519.1,1037.1 L522.1,1035.1 L525.1,1033.1 L528.1,1031.0 L531.1,1029.0 L534.1,1026.9 L537.1,1024.9 L540.1,1022.8 L543.0,1020.7 L546.0,1018.6 L549.0,1016.5 L552.0,1014.4 L555.0,1012.3 L558.0,1010.2 L561.0,1008.1 L564.0,1005.9 L567.0,1003.8 L570.0,1001.6 L573.0,999.5 L576.0,997.3 L579.0,995.1 L582.0,993.0 L585.0,990.8 L588.0,988.6 L591.0,986.4 L594.0,984.2 L597.0,982.0 L600.0,979.8 L603.0,977.6 L606.0,975.3 L609.0,973.1 L612.0,970.9 L615.0,968.6 L618.0,966.4 L621.0,964.1 L623.9,961.8 L626.9,959.6 L629.9,957.3 L632.9,955.0 L635.9,952.7 L638.9,950.4 L641.9,948.1 L644.9,945.8 L647.9,943.5 L650.9,941.2 L653.9,938.8 L656.9,936.5 L659.9,934.2 L662.9,931.8 L665.9,929.5 L668.9,927.1 L671.9,924.7 L674.9,922.4 L677.9,920.0 L680.9,917.6 L683.9,915.2 L686.9,912.9 L689.9,910.5 L692.9,908.1 L695.9,905.7 L698.9,903.2 L701.9,900.8 L704.8,898.4 L707.8,896.0 L710.8,893.6 L713.8,891.1 L716.8,888.7 L719.8,886.2 L722.8,883.8 L725.8,881.3 L728.8,878.9 L731.8,876.4 L734.8,873.9 L737.8,871.4 L740.8,869.0 L743.8,866.5 L746.8,864.0" fill="none" stroke="#00f" stroke-width="7.7" stroke-linecap="round" stroke-linejoin="round"/>
<rect x="147.3" y="816.4" width="631.0" height="612.3" fill="none" stroke="#000" stroke-width="4"/>
<path d="M147.3,1428.7 v16.5 M267.3,1428.7 v16.5 M387.3,1428.7 v16.5 M507.3,1428.7 v16.5 M627.3,1428.7 v16.5 M747.3,1428.7 v16.5 M207.3,1428.7 v8.5 M327.3,1428.7 v8.5 M447.3,1428.7 v8.5 M567.3,1428.7 v8.5 M687.3,1428.7 v8.5 M147.3,816.6 h-16.5 M147.3,939.0 h-16.5 M147.3,1061.5 h-16.5 M147.3,1183.9 h-16.5 M147.3,1306.4 h-16.5 M147.3,1428.8 h-16.5 M147.3,877.8 h-8.5 M147.3,1000.2 h-8.5 M147.3,1122.7 h-8.5 M147.3,1245.1 h-8.5 M147.3,1367.6 h-8.5" fill="none" stroke="#000" stroke-width="4" stroke-linecap="round"/>
<path d="M144.9,1185.2 H776.3" fill="none" stroke="#FF8C00" stroke-width="6.8" stroke-dasharray="8.2 23.1" stroke-linecap="round"/>
<text x="147.3" y="1478.0" font-size="44.5" text-anchor="middle">0</text>
<text x="267.3" y="1478.0" font-size="44.5" text-anchor="middle">200</text>
<text x="387.3" y="1478.0" font-size="44.5" text-anchor="middle">400</text>
<text x="507.3" y="1478.0" font-size="44.5" text-anchor="middle">600</text>
<text x="627.3" y="1478.0" font-size="44.5" text-anchor="middle">800</text>
<text x="747.3" y="1478.0" font-size="44.5" text-anchor="middle">1000</text>
<text x="118.0" y="830.3" font-size="44.5" text-anchor="end">1.5</text>
<text x="118.0" y="952.7" font-size="44.5" text-anchor="end">1.0</text>
<text x="118.0" y="1075.2" font-size="44.5" text-anchor="end">0.5</text>
<text x="118.0" y="1197.6" font-size="44.5" text-anchor="end">0.0</text>
<text x="118.0" y="1320.1" font-size="44.5" text-anchor="end">-0.5</text>
<text x="118.0" y="1442.5" font-size="44.5" text-anchor="end">-1.0</text>
<text x="277.6" y="1528.4" font-size="51.5" textLength="370.0" lengthAdjust="spacingAndGlyphs">Temperature (k)</text>
<text transform="translate(51.5,1265.8) rotate(-90)" font-size="52.0" textLength="255.6" lengthAdjust="spacingAndGlyphs">Energy (eV)</text>
<text x="327.6" y="862.8" font-size="48.1">LDA Method</text>
<rect x="155.7" y="897.9" width="328.8" height="147.8" fill="#fff" stroke="#222" stroke-width="1.3"/>
<path d="M173.9,924.2 H261.7" stroke="#000" stroke-width="9" stroke-linecap="round"/>
<text x="274.3" y="937.0" font-size="39.8">Enthalpy</text>
<path d="M173.2,973.5 H262.4" stroke="#f00" stroke-width="7.5" stroke-linecap="round"/>
<text x="274.3" y="986.4" font-size="39.5">Free energy</text>
<path d="M173.4,1022.6 H262.2" stroke="#00f" stroke-width="8" stroke-linecap="round"/>
<text x="274.3" y="1035.5" font-size="39.3">Entropy</text>
<rect x="372.6" y="1310" width="133.8" height="90.0" fill="#FFD700"/>
<text x="409.0" y="1376.5" font-size="50.5" textLength="60.8" lengthAdjust="spacingAndGlyphs">(c)</text>
</g>
<g>
<path d="M1069.1,1399.5 L1072.0,1399.5 L1075.0,1399.5 L1078.0,1399.5 L1081.0,1399.5 L1083.9,1399.5 L1086.9,1399.5 L1089.9,1399.5 L1092.9,1399.5 L1095.8,1399.5 L1098.8,1399.4 L1101.8,1399.2 L1104.8,1398.9 L1107.7,1398.3 L1110.7,1397.3 L1113.7,1396.1 L1116.7,1394.4 L1119.6,1392.2 L1122.6,1389.7 L1125.6,1386.7 L1128.6,1383.4 L1131.5,1379.6 L1134.5,1375.5 L1137.5,1371.1 L1140.5,1366.4 L1143.4,1361.4 L1146.4,1356.2 L1149.4,1350.8 L1152.4,1345.3 L1155.3,1339.7 L1158.3,1333.9 L1161.3,1328.1 L1164.3,1322.2 L1167.2,1316.3 L1170.2,1310.4 L1173.2,1304.5 L1176.2,1298.6 L1179.1,1292.8 L1182.1,1287.1 L1185.1,1281.4 L1188.1,1275.7 L1191.0,1270.2 L1194.0,1264.7 L1197.0,1259.4 L1200.0,1254.1 L1202.9,1249.0 L1205.9,1243.9 L1208.9,1239.0 L1211.9,1234.2 L1214.8,1229.5 L1217.8,1224.9 L1220.8,1220.4 L1223.8,1216.0 L1226.7,1211.8 L1229.7,1207.6 L1232.7,1203.6 L1235.7,1199.7 L1238.6,1195.8 L1241.6,1192.1 L1244.6,1188.5 L1247.6,1185.0 L1250.5,1181.6 L1253.5,1178.2 L1256.5,1175.0 L1259.5,1171.9 L1262.4,1168.8 L1265.4,1165.8 L1268.4,1163.0 L1271.4,1160.2 L1274.3,1157.4 L1277.3,1154.8 L1280.3,1152.2 L1283.3,1149.7 L1286.2,1147.3 L1289.2,1144.9 L1292.2,1142.6 L1295.2,1140.4 L1298.1,1138.2 L1301.1,1136.1 L1304.1,1134.0 L1307.1,1132.0 L1310.0,1130.1 L1313.0,1128.2 L1316.0,1126.4 L1319.0,1124.6 L1321.9,1122.8 L1324.9,1121.1 L1327.9,1119.5 L1330.9,1117.9 L1333.8,1116.3 L1336.8,1114.8 L1339.8,1113.3 L1342.8,1111.8 L1345.7,1110.4 L1348.7,1109.0 L1351.7,1107.7 L1354.7,1106.4 L1357.6,1105.1 L1360.6,1103.9 L1363.6,1102.7 L1366.6,1101.5 L1369.5,1100.3 L1372.5,1099.2 L1375.5,1098.1 L1378.5,1097.0 L1381.4,1096.0 L1384.4,1094.9 L1387.4,1094.0 L1390.4,1093.0 L1393.3,1092.0 L1396.3,1091.1 L1399.3,1090.2 L1402.3,1089.3 L1405.2,1088.4 L1408.2,1087.6 L1411.2,1086.8 L1414.2,1085.9 L1417.1,1085.2 L1420.1,1084.4 L1423.1,1083.6 L1426.0,1082.9 L1429.0,1082.2 L1432.0,1081.4 L1435.0,1080.7 L1437.9,1080.1 L1440.9,1079.4 L1443.9,1078.8 L1446.9,1078.1 L1449.8,1077.5 L1452.8,1076.9 L1455.8,1076.3 L1458.8,1075.7 L1461.7,1075.1 L1464.7,1074.6 L1467.7,1074.0 L1470.7,1073.5 L1473.6,1072.9 L1476.6,1072.4 L1479.6,1071.9 L1482.6,1071.4 L1485.5,1070.9 L1488.5,1070.4 L1491.5,1070.0 L1494.5,1069.5 L1497.4,1069.0 L1500.4,1068.6 L1503.4,1068.2 L1506.4,1067.7 L1509.3,1067.3 L1512.3,1066.9 L1515.3,1066.5 L1518.3,1066.1 L1521.2,1065.7 L1524.2,1065.3 L1527.2,1064.9 L1530.2,1064.6 L1533.1,1064.2 L1536.1,1063.8 L1539.1,1063.5 L1542.1,1063.1 L1545.0,1062.8 L1548.0,1062.5 L1551.0,1062.1 L1554.0,1061.8 L1556.9,1061.5 L1559.9,1061.2 L1562.9,1060.9 L1565.9,1060.6 L1568.8,1060.3 L1571.8,1060.0 L1574.8,1059.7 L1577.8,1059.4 L1580.7,1059.2 L1583.7,1058.9 L1586.7,1058.6 L1589.7,1058.4 L1592.6,1058.1 L1595.6,1057.8 L1598.6,1057.6 L1601.6,1057.3 L1604.5,1057.1 L1607.5,1056.9 L1610.5,1056.6 L1613.5,1056.4 L1616.4,1056.2 L1619.4,1055.9 L1622.4,1055.7 L1625.4,1055.5 L1628.3,1055.3 L1631.3,1055.1 L1634.3,1054.9 L1637.3,1054.6 L1640.2,1054.4 L1643.2,1054.2 L1646.2,1054.0 L1649.2,1053.9 L1652.1,1053.7 L1655.1,1053.5 L1658.1,1053.3 L1661.1,1053.1" fill="none" stroke="#000" stroke-width="9" stroke-linecap="round" stroke-linejoin="round"/>
<path d="M1069.1,1399.5 L1072.0,1399.5 L1075.0,1399.5 L1078.0,1399.5 L1081.0,1399.5 L1083.9,1399.5 L1086.9,1399.5 L1089.9,1399.5 L1092.9,1399.4 L1095.8,1399.2 L1098.8,1398.9 L1101.8,1398.3 L1104.8,1397.5 L1107.7,1396.2 L1110.7,1394.6 L1113.7,1392.6 L1116.7,1390.1 L1119.6,1387.2 L1122.6,1383.9 L1125.6,1380.2 L1128.6,1376.2 L1131.5,1371.8 L1134.5,1367.2 L1137.5,1362.3 L1140.5,1357.2 L1143.4,1351.8 L1146.4,1346.4 L1149.4,1340.8 L1152.4,1335.1 L1155.3,1329.3 L1158.3,1323.5 L1161.3,1317.6 L1164.3,1311.8 L1167.2,1305.9 L1170.2,1300.1 L1173.2,1294.3 L1176.2,1288.6 L1179.1,1282.9 L1182.1,1277.3 L1185.1,1271.8 L1188.1,1266.3 L1191.0,1261.0 L1194.0,1255.7 L1197.0,1250.6 L1200.0,1245.6 L1202.9,1240.6 L1205.9,1235.8 L1208.9,1231.1 L1211.9,1226.5 L1214.8,1222.0 L1217.8,1217.7 L1220.8,1213.4 L1223.8,1209.2 L1226.7,1205.2 L1229.7,1201.3 L1232.7,1197.4 L1235.7,1193.7 L1238.6,1190.1 L1241.6,1186.5 L1244.6,1183.1 L1247.6,1179.8 L1250.5,1176.5 L1253.5,1173.4 L1256.5,1170.3 L1259.5,1167.3 L1262.4,1164.4 L1265.4,1161.6 L1268.4,1158.8 L1271.4,1156.2 L1274.3,1153.6 L1277.3,1151.1 L1280.3,1148.6 L1283.3,1146.2 L1286.2,1143.9 L1289.2,1141.6 L1292.2,1139.5 L1295.2,1137.3 L1298.1,1135.2 L1301.1,1133.2 L1304.1,1131.3 L1307.1,1129.4 L1310.0,1127.5 L1313.0,1125.7 L1316.0,1123.9 L1319.0,1122.2 L1321.9,1120.5 L1324.9,1118.9 L1327.9,1117.3 L1330.9,1115.8 L1333.8,1114.3 L1336.8,1112.8 L1339.8,1111.4 L1342.8,1110.0 L1345.7,1108.6 L1348.7,1107.3 L1351.7,1106.0 L1354.7,1104.8 L1357.6,1103.5 L1360.6,1102.3 L1363.6,1101.2 L1366.6,1100.0 L1369.5,1098.9 L1372.5,1097.8 L1375.5,1096.8 L1378.5,1095.7 L1381.4,1094.7 L1384.4,1093.7 L1387.4,1092.8 L1390.4,1091.8 L1393.3,1090.9 L1396.3,1090.0 L1399.3,1089.1 L1402.3,1088.3 L1405.2,1087.4 L1408.2,1086.6 L1411.2,1085.8 L1414.2,1085.0 L1417.1,1084.2 L1420.1,1083.5 L1423.1,1082.7 L1426.0,1082.0 L1429.0,1081.3 L1432.0,1080.6 L1435.0,1080.0 L1437.9,1079.3 L1440.9,1078.6 L1443.9,1078.0 L1446.9,1077.4 L1449.8,1076.8 L1452.8,1076.2 L1455.8,1075.6 L1458.8,1075.0 L1461.7,1074.5 L1464.7,1073.9 L1467.7,1073.4 L1470.7,1072.9 L1473.6,1072.3 L1476.6,1071.8 L1479.6,1071.3 L1482.6,1070.8 L1485.5,1070.4 L1488.5,1069.9 L1491.5,1069.4 L1494.5,1069.0 L1497.4,1068.5 L1500.4,1068.1 L1503.4,1067.7 L1506.4,1067.3 L1509.3,1066.8 L1512.3,1066.4 L1515.3,1066.0 L1518.3,1065.6 L1521.2,1065.3 L1524.2,1064.9 L1527.2,1064.5 L1530.2,1064.2 L1533.1,1063.8 L1536.1,1063.5 L1539.1,1063.1 L1542.1,1062.8 L1545.0,1062.4 L1548.0,1062.1 L1551.0,1061.8 L1554.0,1061.5 L1556.9,1061.2 L1559.9,1060.9 L1562.9,1060.6 L1565.9,1060.3 L1568.8,1060.0 L1571.8,1059.7 L1574.8,1059.4 L1577.8,1059.1 L1580.7,1058.9 L1583.7,1058.6 L1586.7,1058.3 L1589.7,1058.1 L1592.6,1057.8 L1595.6,1057.6 L1598.6,1057.3 L1601.6,1057.1 L1604.5,1056.8 L1607.5,1056.6 L1610.5,1056.4 L1613.5,1056.1 L1616.4,1055.9 L1619.4,1055.7 L1622.4,1055.5 L1625.4,1055.3 L1628.3,1055.0 L1631.3,1054.8 L1634.3,1054.6 L1637.3,1054.4 L1640.2,1054.2 L1643.2,1054.0 L1646.2,1053.8 L1649.2,1053.6 L1652.1,1053.5 L1655.1,1053.3 L1658.1,1053.1 L1661.1,1052.9" fill="none" stroke="#f00" stroke-width="9" stroke-linecap="round" stroke-linejoin="round"/>
<path d="M1068.6,1399.5 L1071.5,1399.5 L1074.5,1399.1 L1077.5,1396.3 L1080.5,1389.0 L1083.5,1377.8 L1086.5,1364.3 L1089.4,1350.3 L1092.4,1336.9 L1095.4,1324.5 L1098.4,1313.5 L1101.4,1303.8 L1104.3,1295.2 L1107.3,1287.7 L1110.3,1280.9 L1113.3,1274.9 L1116.3,1269.3 L1119.3,1264.0 L1122.2,1259.0 L1125.2,1254.0 L1128.2,1249.0 L1131.2,1244.0 L1134.2,1238.9 L1137.1,1233.6 L1140.1,1228.2 L1143.1,1222.6 L1146.1,1216.9 L1149.1,1211.0 L1152.0,1205.0 L1155.0,1198.9 L1158.0,1192.7 L1161.0,1186.4 L1164.0,1180.0 L1167.0,1173.6 L1169.9,1167.2 L1172.9,1160.9 L1175.9,1154.5 L1178.9,1148.2 L1181.9,1141.9 L1184.8,1135.7 L1187.8,1129.5 L1190.8,1123.5 L1193.8,1117.5 L1196.8,1111.6 L1199.8,1105.9 L1202.7,1100.2 L1205.7,1094.7 L1208.7,1089.3 L1211.7,1084.0 L1214.7,1078.8 L1217.6,1073.7 L1220.6,1068.8 L1223.6,1063.9 L1226.6,1059.2 L1229.6,1054.6 L1232.6,1050.2 L1235.5,1045.8 L1238.5,1041.6 L1241.5,1037.4 L1244.5,1033.4 L1247.5,1029.5 L1250.4,1025.7 L1253.4,1021.9 L1256.4,1018.3 L1259.4,1014.8 L1262.4,1011.4 L1265.4,1008.1 L1268.3,1004.8 L1271.3,1001.7 L1274.3,998.6 L1277.3,995.6 L1280.3,992.7 L1283.2,989.9 L1286.2,987.1 L1289.2,984.4 L1292.2,981.8 L1295.2,979.3 L1298.2,976.8 L1301.1,974.4 L1304.1,972.0 L1307.1,969.7 L1310.1,967.5 L1313.1,965.4 L1316.0,963.2 L1319.0,961.2 L1322.0,959.2 L1325.0,957.2 L1328.0,955.3 L1331.0,953.4 L1333.9,951.6 L1336.9,949.8 L1339.9,948.1 L1342.9,946.4 L1345.9,944.8 L1348.8,943.2 L1351.8,941.6 L1354.8,940.1 L1357.8,938.6 L1360.8,937.1 L1363.8,935.7 L1366.7,934.3 L1369.7,933.0 L1372.7,931.7 L1375.7,930.4 L1378.7,929.1 L1381.6,927.9 L1384.6,926.6 L1387.6,925.5 L1390.6,924.3 L1393.6,923.2 L1396.6,922.1 L1399.5,921.0 L1402.5,919.9 L1405.5,918.9 L1408.5,917.9 L1411.5,916.9 L1414.4,915.9 L1417.4,915.0 L1420.4,914.1 L1423.4,913.2 L1426.4,912.3 L1429.4,911.4 L1432.3,910.5 L1435.3,909.7 L1438.3,908.9 L1441.3,908.1 L1444.3,907.3 L1447.2,906.5 L1450.2,905.8 L1453.2,905.0 L1456.2,904.3 L1459.2,903.6 L1462.2,902.9 L1465.1,902.2 L1468.1,901.5 L1471.1,900.9 L1474.1,900.2 L1477.1,899.6 L1480.0,899.0 L1483.0,898.4 L1486.0,897.8 L1489.0,897.2 L1492.0,896.6 L1494.9,896.0 L1497.9,895.5 L1500.9,894.9 L1503.9,894.4 L1506.9,893.9 L1509.9,893.4 L1512.8,892.9 L1515.8,892.4 L1518.8,891.9 L1521.8,891.4 L1524.8,890.9 L1527.7,890.4 L1530.7,890.0 L1533.7,889.5 L1536.7,889.1 L1539.7,888.7 L1542.7,888.2 L1545.6,887.8 L1548.6,887.4 L1551.6,887.0 L1554.6,886.6 L1557.6,886.2 L1560.5,885.8 L1563.5,885.4 L1566.5,885.1 L1569.5,884.7 L1572.5,884.3 L1575.5,884.0 L1578.4,883.6 L1581.4,883.3 L1584.4,883.0 L1587.4,882.6 L1590.4,882.3 L1593.3,882.0 L1596.3,881.7 L1599.3,881.3 L1602.3,881.0 L1605.3,880.7 L1608.3,880.4 L1611.2,880.1 L1614.2,879.8 L1617.2,879.6 L1620.2,879.3 L1623.2,879.0 L1626.1,878.7 L1629.1,878.5 L1632.1,878.2 L1635.1,877.9 L1638.1,877.7 L1641.1,877.4 L1644.0,877.2 L1647.0,876.9 L1650.0,876.7 L1653.0,876.4 L1656.0,876.2 L1658.9,876.0 L1661.9,875.7" fill="none" stroke="#00f" stroke-width="7.8" stroke-linecap="round" stroke-linejoin="round"/>
<rect x="1065.3" y="817.7" width="628.6" height="611.0" fill="none" stroke="#000" stroke-width="3.5"/>
<path d="M1065.3,1428.7 v15.5 M1184.7,1428.7 v15.5 M1304.2,1428.7 v15.5 M1423.6,1428.7 v15.5 M1543.1,1428.7 v15.5 M1662.5,1428.7 v15.5 M1125.0,1428.7 v8 M1244.5,1428.7 v8 M1363.9,1428.7 v8 M1483.3,1428.7 v8 M1602.8,1428.7 v8 M1065.3,848.2 h-15.5 M1065.3,940.0 h-15.5 M1065.3,1031.9 h-15.5 M1065.3,1123.8 h-15.5 M1065.3,1215.7 h-15.5 M1065.3,1307.6 h-15.5 M1065.3,1399.5 h-15.5 M1065.3,894.1 h-8 M1065.3,986.0 h-8 M1065.3,1077.9 h-8 M1065.3,1169.8 h-8 M1065.3,1261.7 h-8 M1065.3,1353.6 h-8" fill="none" stroke="#000" stroke-width="3.5" stroke-linecap="round"/>
<text x="1065.3" y="1484.0" font-size="44.5" text-anchor="middle">0</text>
<text x="1184.7" y="1484.0" font-size="44.5" text-anchor="middle">200</text>
<text x="1304.2" y="1484.0" font-size="44.5" text-anchor="middle">400</text>
<text x="1423.6" y="1484.0" font-size="44.5" text-anchor="middle">600</text>
<text x="1543.1" y="1484.0" font-size="44.5" text-anchor="middle">800</text>
<text x="1662.5" y="1484.0" font-size="44.5" text-anchor="middle">1000</text>
<text x="1037.3" y="861.7" font-size="44.5" text-anchor="end">18</text>
<text x="1037.3" y="953.5" font-size="44.5" text-anchor="end">15</text>
<text x="1037.3" y="1045.4" font-size="44.5" text-anchor="end">12</text>
<text x="1037.3" y="1137.3" font-size="44.5" text-anchor="end">9</text>
<text x="1037.3" y="1229.2" font-size="44.5" text-anchor="end">6</text>
<text x="1037.3" y="1321.1" font-size="44.5" text-anchor="end">3</text>
<text x="1037.3" y="1413.0" font-size="44.5" text-anchor="end">0</text>
<text x="1191.0" y="1528.2" font-size="51.5" textLength="368.6" lengthAdjust="spacingAndGlyphs">Temperature (k)</text>
<text transform="translate(974.4,1265.8) rotate(-90)" font-size="52.0" textLength="254.6" lengthAdjust="spacingAndGlyphs">Energy (eV)</text>
<text x="1236.0" y="872.9" font-size="47.2">Heat capacity</text>
<rect x="1304.1" y="1154.5" width="363.4" height="141.5" fill="#fff" stroke="#777" stroke-width="1.3"/>
<path d="M1330.8,1182 H1413.6" stroke="#000" stroke-width="9" stroke-linecap="round"/>
<text x="1437.0" y="1193.4" font-size="36.9">PBE method</text>
<path d="M1330.0,1228.6 H1414.3" stroke="#f00" stroke-width="7.5" stroke-linecap="round"/>
<text x="1425.7" y="1240.0" font-size="37.1">RPBE method</text>
<path d="M1330.3,1275.2 H1414.1" stroke="#00f" stroke-width="8" stroke-linecap="round"/>
<text x="1425.6" y="1286.3" font-size="37.2">LDA method</text>
<rect x="1355.9" y="1310" width="133.5" height="90.2" fill="#FFD700"/>
<text x="1390.1" y="1374.2" font-size="50.5" textLength="64.6" lengthAdjust="spacingAndGlyphs">(d)</text>
</g>
</svg>
</body></html>
